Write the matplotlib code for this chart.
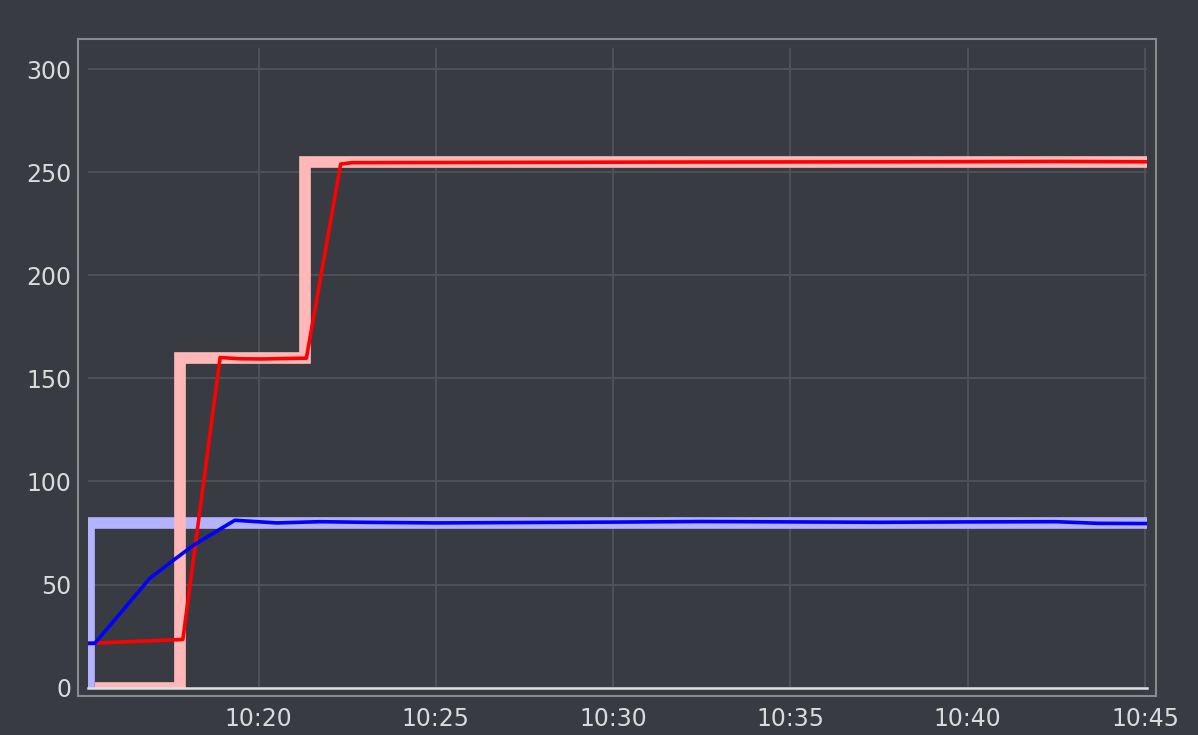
import matplotlib
matplotlib.use('Agg')
import matplotlib.pyplot as plt
import matplotlib.dates as mdates
from matplotlib.patches import Rectangle
import pandas as pd

DAY = '2024-01-01 '

# consigna (escalones gruesos)
red_step_t = ['10:15:23', '10:17:47', '10:21:19', '10:45:04']
red_step_v = [0, 160, 255, 255]
blue_step_t = ['10:15:11', '10:15:14', '10:45:04']
blue_step_v = [0, 80, 80]

# medidas (lineas finas)
red_t = ['10:15:11', '10:17:52', '10:18:55', '10:19:30', '10:20:05', '10:21:21',
         '10:22:19', '10:22:38', '10:26:00', '10:32:00', '10:38:00', '10:42:30', '10:45:04']
red_v = [21.5, 23.4, 160.1, 159.5, 159.4, 159.8,
         253.9, 254.6, 254.7, 254.9, 255.0, 255.2, 255.0]
blue_t = ['10:15:11', '10:15:23', '10:16:56', '10:17:36', '10:18:10', '10:19:20',
          '10:20:31', '10:21:44', '10:23:00', '10:25:00', '10:27:30', '10:30:00',
          '10:32:30', '10:35:00', '10:37:30', '10:40:00', '10:42:30', '10:43:40', '10:45:04']
blue_v = [21.5, 21.5, 53.0, 61.8, 69.1, 81.2,
          79.9, 80.5, 80.2, 79.9, 80.1, 80.3,
          80.6, 80.4, 80.2, 80.4, 80.5, 79.7, 79.6]

def ts(lst):
    return pd.to_datetime([DAY + s for s in lst])

BG = '#383b42'
GRID = '#4d5058'
TXT = '#dadada'

W, H = 1198, 735
fig = plt.figure(figsize=(W / 100, H / 100), dpi=100, facecolor=BG)
ax = fig.add_axes([88 / W, (H - 687.7) / H, (1147 - 88) / W, (687.7 - 48) / H])
ax.set_facecolor(BG)

ax.plot(ts(blue_step_t), blue_step_v, drawstyle='steps-post', color='#b3b3ff',
        lw=8.4, solid_joinstyle='miter', solid_capstyle='butt')
ax.plot(ts(red_step_t), red_step_v, drawstyle='steps-post', color='#ffb8b8',
        lw=8.4, solid_joinstyle='miter', solid_capstyle='butt')
ax.plot(ts(red_t), red_v, color='#ff0000', lw=2.6)
ax.plot(ts(blue_t), blue_v, color='#0000ff', lw=2.6)

ax.set_xlim(pd.Timestamp(DAY + '10:15:11.5'), pd.Timestamp(DAY + '10:45:03.4'))
ax.set_ylim(0, 310.2)
ax.set_yticks([0, 50, 100, 150, 200, 250, 300])
ax.xaxis.set_major_locator(mdates.MinuteLocator(byminute=range(0, 60, 5)))
ax.xaxis.set_major_formatter(mdates.DateFormatter('%H:%M'))

ax.grid(True, color=GRID, lw=1.5)
ax.set_axisbelow(True)
for s in ['top', 'right', 'left']:
    ax.spines[s].set_visible(False)
ax.spines['bottom'].set_color('#e0e0e0')
ax.spines['bottom'].set_linewidth(1.8)
ax.spines['bottom'].set_zorder(5)
ax.tick_params(axis='both', length=0, labelsize=17, labelcolor=TXT)
ax.tick_params(axis='y', pad=12)
ax.tick_params(axis='x', pad=14)

# marco exterior
fig.add_artist(Rectangle((77.7 / W, (H - 696) / H), (1156 - 77.7) / W, (696 - 39) / H,
                         transform=fig.transFigure, fill=False, edgecolor='#8a8a8a', lw=1.5))

fig.savefig('out.png', dpi=100, facecolor=BG)
